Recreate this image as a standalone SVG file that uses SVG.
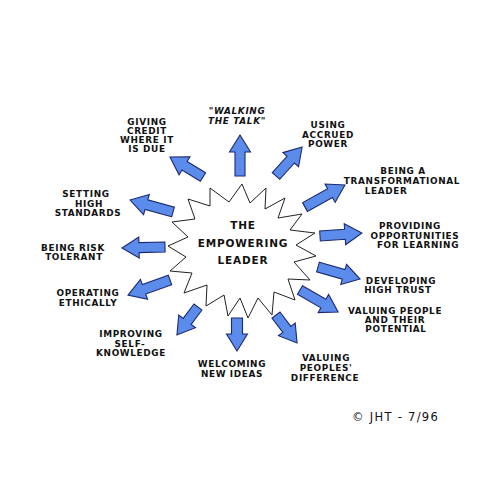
<svg xmlns="http://www.w3.org/2000/svg" width="480" height="480" viewBox="0 0 480 480">
<style>
.lbl{font-family:"DejaVu Sans","Liberation Sans",sans-serif;font-weight:bold;font-size:8.9px;letter-spacing:0.65px;fill:#111;text-anchor:middle}
.it{font-style:italic}
.ctr{font-family:"DejaVu Sans","Liberation Sans",sans-serif;font-weight:bold;font-size:10.5px;letter-spacing:0.8px;fill:#111;text-anchor:middle}
.arr{fill:#5b8cec;stroke:#1c2a70;stroke-width:1.1;stroke-linejoin:miter}
.cp{font-family:"DejaVu Sans","Liberation Sans",sans-serif;font-size:11.5px;letter-spacing:1.3px;fill:#111}
</style>
<rect width="480" height="480" fill="#fff"/>
<g id="center">
<polygon points="242,184 250,203 266,188 265,209 285,198 278,218 302,214 290,230 315,233 296,245 316,256 294,262 310,280 288,279 295,300 274,292 272,315 258,298 248,318 240,298 228,316 224,295 206,306 207,285 184,293 192,273 170,271 186,257 168,246 188,237 172,222 195,219 188,199 210,206 210,188 229,202" fill="#fff" stroke="#222" stroke-width="1"/>
<text class="ctr" x="243" y="229">THE</text>
<text class="ctr" x="243" y="247">EMPOWERING</text>
<text class="ctr" x="243" y="264">LEADER</text>
</g>
<g id="connectors">
<path class="arr" transform="translate(240,176) rotate(-90)" d="M0,-5 H24 V-10.5 L41,0 L24,10.5 V5 H0 Z"/>
<path class="arr" transform="translate(203,177) rotate(-148.8)" d="M0,-5 H21.6 V-10.5 L38.6,0 L21.6,10.5 V5 H0 Z"/>
<path class="arr" transform="translate(276,176) rotate(-48)" d="M0,-5 H22 V-10.5 L39,0 L22,10.5 V5 H0 Z"/>
<path class="arr" transform="translate(305,207) rotate(-28.8)" d="M0,-5 H28.6 V-10.5 L45.6,0 L28.6,10.5 V5 H0 Z"/>
<path class="arr" transform="translate(320,236) rotate(-4)" d="M0,-5 H25 V-10.5 L42,0 L25,10.5 V5 H0 Z"/>
<path class="arr" transform="translate(318,267) rotate(16)" d="M0,-5 H26.7 V-10.5 L43.7,0 L26.7,10.5 V5 H0 Z"/>
<path class="arr" transform="translate(300,290) rotate(30)" d="M0,-5 H27 V-10.5 L44,0 L27,10.5 V5 H0 Z"/>
<path class="arr" transform="translate(276,315) rotate(53)" d="M0,-5 H18 V-10.5 L35,0 L18,10.5 V5 H0 Z"/>
<path class="arr" transform="translate(237,318) rotate(90)" d="M0,-5.5 H16 V-10.5 L33,0 L16,10.5 V5.5 H0 Z"/>
<path class="arr" transform="translate(198,307) rotate(127)" d="M0,-5 H18 V-10.5 L35,0 L18,10.5 V5 H0 Z"/>
<path class="arr" transform="translate(170,280) rotate(160.3)" d="M0,-5 H27.6 V-10.5 L44.6,0 L27.6,10.5 V5 H0 Z"/>
<path class="arr" transform="translate(165,247) rotate(178.7)" d="M0,-5 H26 V-10.5 L43,0 L26,10.5 V5 H0 Z"/>
<path class="arr" transform="translate(173,212) rotate(-164.4)" d="M0,-5 H27.6 V-10.5 L44.6,0 L27.6,10.5 V5 H0 Z"/>
</g>
<g id="walking">
<text class="lbl it" x="237" y="113.5">"WALKING</text>
<text class="lbl it" x="237" y="123.5">THE TALK"</text>
</g>
<g id="credit">
<text class="lbl" x="147" y="124.5">GIVING</text>
<text class="lbl" x="147" y="133.5">CREDIT</text>
<text class="lbl" x="147" y="142.5">WHERE IT</text>
<text class="lbl" x="147" y="152">IS DUE</text>
</g>
<g id="power">
<text class="lbl" x="328" y="127.5">USING</text>
<text class="lbl" x="328" y="137.5">ACCRUED</text>
<text class="lbl" x="328" y="146.5">POWER</text>
</g>
<g id="transformational">
<text class="lbl" x="403" y="173.5">BEING A</text>
<text class="lbl" x="402" y="183.5">TRANSFORMATIONAL</text>
<text class="lbl" x="386" y="193.5">LEADER</text>
</g>
<g id="providing">
<text class="lbl" x="410" y="228.5">PROVIDING</text>
<text class="lbl" x="415" y="238.5">OPPORTUNITIES</text>
<text class="lbl" x="418" y="247.5">FOR LEARNING</text>
</g>
<g id="trust">
<text class="lbl" x="401" y="283.5">DEVELOPING</text>
<text class="lbl" x="398" y="292.5">HIGH TRUST</text>
</g>
<g id="potential">
<text class="lbl" x="395" y="313.5">VALUING PEOPLE</text>
<text class="lbl" x="395" y="322.5">AND THEIR</text>
<text class="lbl" x="396" y="331.5">POTENTIAL</text>
</g>
<g id="difference">
<text class="lbl" x="326" y="360.5">VALUING</text>
<text class="lbl" x="326" y="370.5">PEOPLES'</text>
<text class="lbl" x="325" y="380.5">DIFFERENCE</text>
</g>
<g id="welcoming">
<text class="lbl" x="232" y="366.5">WELCOMING</text>
<text class="lbl" x="232" y="376.5">NEW IDEAS</text>
</g>
<g id="improving">
<text class="lbl" x="131" y="336.5">IMPROVING</text>
<text class="lbl" x="130" y="346.5">SELF-</text>
<text class="lbl" x="131" y="355.5">KNOWLEDGE</text>
</g>
<g id="ethically">
<text class="lbl" x="88" y="295.5">OPERATING</text>
<text class="lbl" x="88" y="305.5">ETHICALLY</text>
</g>
<g id="risk">
<text class="lbl" x="73" y="250.5">BEING RISK</text>
<text class="lbl" x="74" y="259.5">TOLERANT</text>
</g>
<g id="standards">
<text class="lbl" x="86" y="196.5">SETTING</text>
<text class="lbl" x="89" y="206.5">HIGH</text>
<text class="lbl" x="88" y="215.5">STANDARDS</text>
</g>
<g id="copyright">
<text class="cp" x="352" y="421">© JHT - 7/96</text>
</g>
</svg>
